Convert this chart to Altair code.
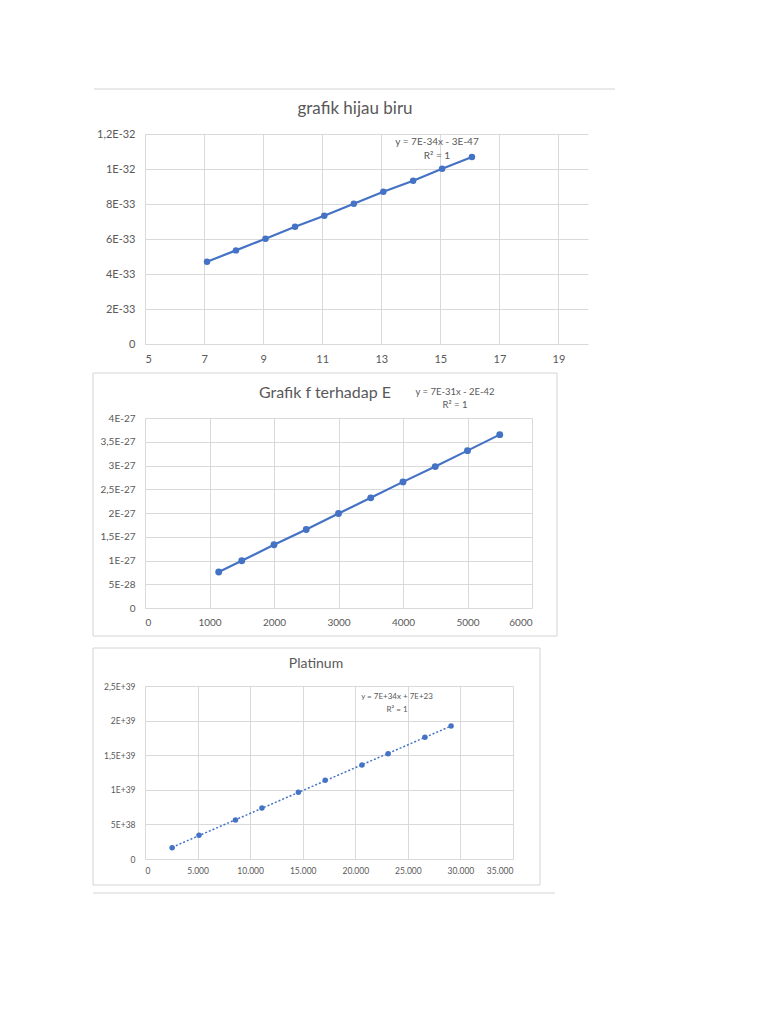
import altair as alt
import pandas as pd

# ---------- data ----------
# Chart 1: grafik hijau biru
hb_x = [7.10, 8.08, 9.08, 10.08, 11.07, 12.07, 13.07, 14.08, 15.06, 16.07]
hb_y = [4.70e-33, 5.35e-33, 6.02e-33, 6.70e-33, 7.33e-33, 8.02e-33, 8.70e-33, 9.33e-33, 1.002e-32, 1.069e-32]
hb_xticks = [5, 7, 9, 11, 13, 15, 17, 19]
hb_yticks = [0, 2e-33, 4e-33, 6e-33, 8e-33, 1e-32, 1.2e-32]

# Chart 2: Grafik f terhadap E
fe_x = [1143, 1500, 2000, 2500, 3000, 3500, 4000, 4500, 5000, 5500]
fe_y = [7.57e-28, 9.95e-28, 1.331e-27, 1.653e-27, 1.989e-27, 2.319e-27, 2.655e-27, 2.977e-27, 3.313e-27, 3.650e-27]
fe_xticks = [0, 1000, 2000, 3000, 4000, 5000, 6000]
fe_yticks = [0, 5e-28, 1e-27, 1.5e-27, 2e-27, 2.5e-27, 3e-27, 3.5e-27, 4e-27]

# Chart 3: Platinum
pt_x = [2583, 5136, 8602, 11122, 14587, 17139, 20636, 23125, 26622, 29112]
pt_y = [1.64e38, 3.42e38, 5.64e38, 7.37e38, 9.63e38, 1.137e39, 1.358e39, 1.522e39, 1.758e39, 1.922e39]
pt_xticks = [0, 5000, 10000, 15000, 20000, 25000, 30000, 35000]
pt_yticks = [0, 5e38, 1e39, 1.5e39, 2e39, 2.5e39]

titles = ["grafik hijau biru", "Grafik f terhadap E", "Platinum"]
eqs = [("y = 7E-34x - 3E-47", "R² = 1"),
       ("y = 7E-31x - 2E-42", "R² = 1"),
       ("y = 7E+34x + 7E+23", "R² = 1")]

# ---------- style ----------
FONT = "Lato"
BLUE = "#4472C4"
GRID = "#d9d9d9"
LABEL = "#595959"
FRAME = "#d4d4d4"

sci_label = "datum.value == 0 ? '0' : replace(upper(format(datum.value, '~e')), '.', ',')"
plain_int = "format(datum.value, 'd')"
dot_thousands = "replace(format(datum.value, ',d'), ',', '.')"


def one():
    return alt.Data(values=[{"k": 0}])


def axis(values, fs=11, pad=7, expr=None):
    kw = dict(values=values, grid=True, gridColor=GRID, gridWidth=1, domain=False,
              ticks=False, labelColor=LABEL, labelFont=FONT, labelFontSize=fs,
              labelPadding=pad, title=None)
    if expr is not None:
        kw["labelExpr"] = expr
    return alt.Axis(**kw)


def text(t, x, y, fs, base="middle"):
    return alt.Chart(one()).mark_text(
        text=t, font=FONT, fontSize=fs, color=LABEL, align="center", baseline=base
    ).encode(x=alt.value(x), y=alt.value(y))


# ---------- chart 1 ----------
W1, H1 = 443, 210
df1 = pd.DataFrame({"x": hb_x, "y": hb_y})
x1 = alt.X("x:Q", scale=alt.Scale(domain=[5, 20], nice=False, zero=False),
           axis=axis(hb_xticks, pad=9, expr=plain_int))
y1 = alt.Y("y:Q", scale=alt.Scale(domain=[0, 1.2e-32], nice=False),
           axis=axis(hb_yticks, pad=10, expr=sci_label))
c1 = alt.layer(
    alt.Chart(one()).mark_rect(filled=False, strokeOpacity=0).encode(
        x=alt.value(-52), x2=alt.value(W1 + 25), y=alt.value(-45), y2=alt.value(H1 + 23)),
    alt.Chart(one()).mark_rule(color=FRAME, strokeWidth=1).encode(
        x=alt.value(-51), x2=alt.value(W1 + 27), y=alt.value(-45)),
    alt.Chart(df1).mark_line(color=BLUE, strokeWidth=2.2).encode(x=x1, y=y1),
    alt.Chart(df1).mark_point(filled=True, size=42, color=BLUE, opacity=1).encode(x=x1, y=y1),
    text(titles[0], 210, -20, 17, "alphabetic"),
    text(eqs[0][0], 292, 8, 10),
    text(eqs[0][1], 292, 22, 10),
).properties(width=W1, height=H1)

# ---------- chart 2 ----------
W2, H2 = 387, 190
df2 = pd.DataFrame({"x": fe_x, "y": fe_y})
x2 = alt.X("x:Q", scale=alt.Scale(domain=[0, 6000], nice=False),
           axis=axis(fe_xticks, fs=10, pad=9, expr=plain_int))
y2 = alt.Y("y:Q", scale=alt.Scale(domain=[0, 4e-27], nice=False),
           axis=axis(fe_yticks, fs=10, pad=10, expr=sci_label))
c2 = alt.layer(
    alt.Chart(one()).mark_rect(filled=False, stroke=FRAME, strokeWidth=1).encode(
        x=alt.value(-52), x2=alt.value(W2 + 25), y=alt.value(-45), y2=alt.value(H2 + 28)),
    alt.Chart(df2).mark_line(color=BLUE, strokeWidth=2.2).encode(x=x2, y=y2),
    alt.Chart(df2).mark_point(filled=True, size=48, color=BLUE, opacity=1).encode(x=x2, y=y2),
    text(titles[1], 180, -20, 16, "alphabetic"),
    text(eqs[1][0], 310, -26, 9.5),
    text(eqs[1][1], 310, -13, 9.5),
).properties(width=W2, height=H2)

# ---------- chart 3 ----------
W3, H3 = 368, 173
df3 = pd.DataFrame({"x": pt_x, "y": pt_y})
x3 = alt.X("x:Q", scale=alt.Scale(domain=[0, 35000], nice=False),
           axis=axis(pt_xticks, fs=8.5, pad=7, expr=dot_thousands))
y3 = alt.Y("y:Q", scale=alt.Scale(domain=[0, 2.5e39], nice=False),
           axis=axis(pt_yticks, fs=8.5, pad=10, expr=sci_label))
c3 = alt.layer(
    alt.Chart(one()).mark_rect(filled=False, strokeOpacity=0).encode(
        x=alt.value(-52), x2=alt.value(W3 + 27), y=alt.value(-44), y2=alt.value(H3 + 34)),
    alt.Chart(one()).mark_rect(filled=False, stroke=FRAME, strokeWidth=1).encode(
        x=alt.value(-52), x2=alt.value(W3 + 27), y=alt.value(-38), y2=alt.value(H3 + 26)),
    alt.Chart(one()).mark_rule(color=FRAME, strokeWidth=1).encode(
        x=alt.value(-52), x2=alt.value(W3 + 42), y=alt.value(H3 + 34)),
    alt.Chart(df3).transform_regression("x", "y").mark_line(
        color=BLUE, strokeWidth=1.5, strokeDash=[2, 2]).encode(x=x3, y=y3),
    alt.Chart(df3).mark_point(filled=True, size=30, color=BLUE, opacity=1).encode(x=x3, y=y3),
    text(titles[2], 171, -18, 14, "alphabetic"),
    text(eqs[2][0], 252, 11, 8),
    text(eqs[2][1], 252, 24, 8),
).properties(width=W3, height=H3)

chart = alt.vconcat(c1, c2, c3, spacing=4).properties(
    padding={"left": 92, "top": 88, "right": 5, "bottom": 5},
    background="white",
).configure_view(stroke="transparent")

chart.save("out.html", embed_options={"renderer": "svg", "actions": False})
